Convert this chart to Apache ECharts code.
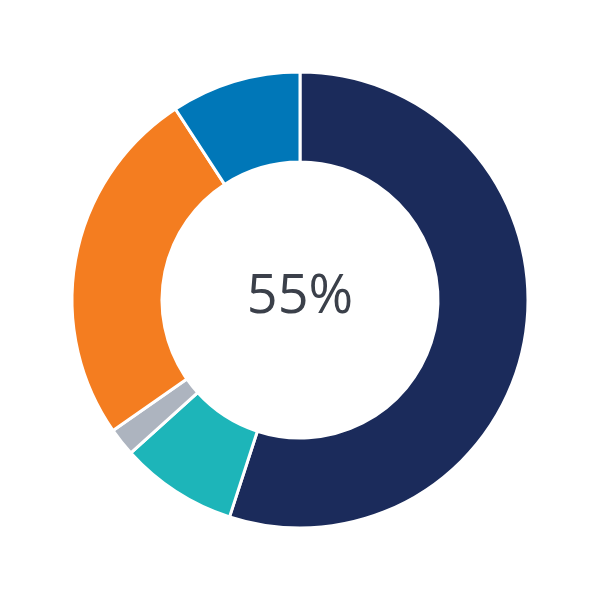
<!DOCTYPE html>
<html>
<head>
<meta charset="utf-8">
<script src="https://cdn.jsdelivr.net/npm/echarts@6/dist/echarts.min.js"></script>
<style>
  html, body { margin: 0; padding: 0; background: #fff; }
  #main { width: 600px; height: 600px; }
</style>
</head>
<body>
<div id="main"></div>
<script>
// slice order: clockwise from 12 o'clock
const names = ['A', 'B', 'C', 'D', 'E'];
const values = [55, 8.3, 2, 25.5, 9.2];
const colors = ['#1b2b5b', '#1db5b9', '#adb4bf', '#f47d20', '#0077b8'];
const centerLabel = '55%';

const chart = echarts.init(document.getElementById('main'));

chart.setOption({
  animation: false,
  graphic: [{
    type: 'text',
    x: 300,
    y: 298,
    style: {
      text: centerLabel,
      align: 'center',
      verticalAlign: 'middle',
      font: 'normal 54px "Open Sans", sans-serif',
      fill: '#3b404a'
    }
  }],
  series: [{
    type: 'pie',
    center: [300, 300],
    radius: [138, 228],
    startAngle: 90,
    clockwise: true,
    label: { show: false },
    labelLine: { show: false },
    emphasis: { disabled: true },
    itemStyle: { borderColor: '#fff', borderWidth: 3 },
    data: names.map((n, i) => ({
      name: n,
      value: values[i],
      itemStyle: { color: colors[i] }
    }))
  }]
});
</script>
</body>
</html>
